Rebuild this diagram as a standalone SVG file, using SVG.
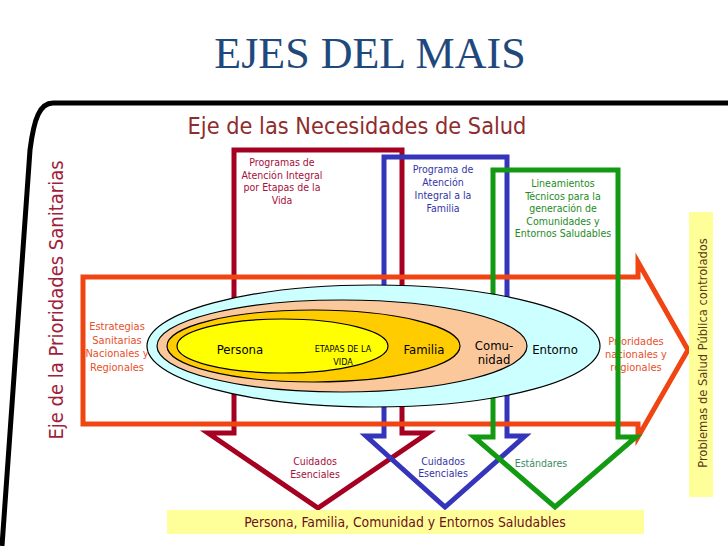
<svg xmlns="http://www.w3.org/2000/svg" width="728" height="546" viewBox="0 0 728 546">
<style>
text{font-family:"DejaVu Sans Condensed","DejaVu Sans",sans-serif;font-stretch:condensed}
.arr{fill:none;stroke-width:5;stroke-linejoin:miter}
.ell{stroke:#000;stroke-width:1.2}
.c{text-anchor:middle}
.cr{fill:#A5103C;font-size:10.5px}
.bl{fill:#3535A5;font-size:10.5px}
.gr{fill:#1E8C1E;font-size:10.5px}
.or{fill:#E8502A;font-size:11px}
.in{fill:#000;font-size:13px}
</style>
<rect width="728" height="546" fill="#fff"/>
<text x="370" y="68" class="c" style="font-family:'Liberation Serif',serif;font-stretch:normal;font-size:44px;fill:#1F497D">EJES DEL MAIS</text>
<path d="M728,103 L53,103 C40,103 34,118 30,150 L2,546" fill="none" stroke="#000" stroke-width="5"/>
<text x="357" y="134" class="c" style="font-size:23.3px;fill:#8E2D2D">Eje de las Necesidades de Salud</text>
<text transform="translate(63,300) rotate(-90)" class="c" style="font-size:20px;fill:#A01E3C">Eje de la Prioridades Sanitarias</text>
<g id="n-prioridades">
<text x="636" y="345" class="c or">Prioridades</text>
<text x="636" y="358" class="c or">nacionales y</text>
<text x="636" y="371" class="c or">regionales</text>
</g>
<g id="connectors">
<polygon id="arrow-programas" class="arr" stroke="#A50021" points="234,150 402,150 402,433 428,433 318,508 208,433 234,433"/>
<polygon id="arrow-familia" class="arr" stroke="#3535BB" points="384,157 507,157 507,436 525,436 445,507 366,436 384,436"/>
<polygon id="arrow-prioridades" class="arr" stroke="#F04412" points="83,277 638,277 638,262 688,350 638,437 638,424 83,424"/>
<polygon id="arrow-lineamientos" class="arr" stroke="#139A13" points="493,170 618,170 618,437 636,437 555,507 474,437 493,437"/>
</g>
<g id="ellipses">
<ellipse id="entorno" class="ell" cx="373.5" cy="346" rx="226.5" ry="61" fill="#CCFFFF"/>
<ellipse id="comunidad" class="ell" cx="342" cy="346" rx="185" ry="46" fill="#FBC89C"/>
<ellipse id="familia" class="ell" cx="313.5" cy="346" rx="146.5" ry="36" fill="#FFCC00"/>
<ellipse id="persona" class="ell" cx="282.5" cy="346" rx="105.5" ry="27" fill="#FFFF00"/>
<text x="240" y="354" class="c in">Persona</text>
<text x="343" y="352" class="c" style="font-size:9px">ETAPAS DE LA</text>
<text x="343" y="365" class="c" style="font-size:9px">VIDA</text>
<text x="424" y="354" class="c in">Familia</text>
<text x="494" y="350" class="c in">Comu-</text>
<text x="494" y="364" class="c in">nidad</text>
<text x="555" y="354" class="c in">Entorno</text>
</g>
<g id="n-programas">
<text x="282" y="166" class="c cr">Programas de</text>
<text x="282" y="178.5" class="c cr">Atención Integral</text>
<text x="282" y="191" class="c cr">por Etapas de la</text>
<text x="282" y="203.5" class="c cr">Vida</text>
<text x="315" y="465" class="c cr">Cuidados</text>
<text x="315" y="478" class="c cr">Esenciales</text>
</g>
<g id="n-familia">
<text x="443" y="173" class="c bl">Programa de</text>
<text x="443" y="186" class="c bl">Atención</text>
<text x="443" y="199" class="c bl">Integral a la</text>
<text x="443" y="212" class="c bl">Familia</text>
<text x="443" y="465" class="c bl">Cuidados</text>
<text x="443" y="477" class="c bl">Esenciales</text>
</g>
<g id="n-lineamientos">
<text x="563" y="187" class="c gr">Lineamientos</text>
<text x="563" y="199.5" class="c gr">Técnicos para la</text>
<text x="563" y="212" class="c gr">generación de</text>
<text x="563" y="224.5" class="c gr">Comunidades y</text>
<text x="563" y="237" class="c gr">Entornos Saludables</text>
<text x="541" y="467" class="c" style="font-size:10.5px;fill:#3C8C62">Estándares</text>
</g>
<g id="n-estrategias">
<text x="117" y="330" class="c or">Estrategias</text>
<text x="117" y="343.5" class="c or">Sanitarias</text>
<text x="117" y="357" class="c or">Nacionales y</text>
<text x="117" y="370.5" class="c or">Regionales</text>
</g>
<g id="n-resultado">
<rect x="167" y="510" width="477" height="24" fill="#FFFF99"/>
<text x="405" y="527" class="c" style="font-size:13.8px;fill:#6E1020">Persona, Familia, Comunidad y Entornos Saludables</text>
</g>
<g id="n-problemas">
<rect x="689" y="212" width="24" height="285" fill="#FFFF99"/>
<text transform="translate(707,353) rotate(-90)" class="c" style="font-size:12.8px;fill:#5C3A1A">Problemas de Salud Pública controlados</text>
</g>
</svg>
